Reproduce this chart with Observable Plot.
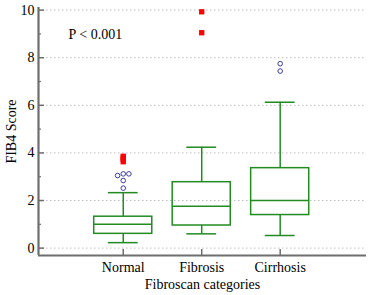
<!DOCTYPE html>
<html>
<head>
<meta charset="utf-8">
<script src="https://cdn.jsdelivr.net/npm/d3@7"></script>
<script src="https://cdn.jsdelivr.net/npm/@observablehq/plot@0.6"></script>
<style>
  html, body { margin: 0; padding: 0; background: #fff; }
</style>
</head>
<body>
<div id="chart"></div>
<script>
// ---- data ----
const categories = ["Normal", "Fibrosis", "Cirrhosis"];
const lowWhisker = [0.23, 0.60, 0.53];
const q1 = [0.60, 0.95, 1.39];
const median = [1.00, 1.76, 2.00];
const q3 = [1.32, 2.77, 3.36];
const highWhisker = [2.33, 4.24, 6.13];

// outside values (blue circles)
const outsideCategory = ["Normal", "Normal", "Normal", "Normal", "Normal", "Cirrhosis", "Cirrhosis"];
const outsideValue = [2.52, 2.84, 3.05, 3.12, 3.12, 7.44, 7.75];

// far-out values (red squares)
const farCategory = ["Normal", "Normal", "Normal", "Normal", "Fibrosis", "Fibrosis"];
const farValue = [3.63, 3.72, 3.80, 3.86, 9.05, 9.93];

const yTicks = [0, 2, 4, 6, 8, 10];
const yMinorTicks = [1, 3, 5, 7, 9];
const annotation = "P < 0.001";
const xTitle = "Fibroscan categories";
const yTitle = "FIB4 Score";

// ---- layout ----
const idx = categories.map((_, i) => i);
const xDomain = [-1.08, 3.1];
const yDomain = [-0.31, 10.11];
const boxHalf = 0.37, capHalf = 0.19, dodgeStep = 0.072;
const green = "#228b22";
const axisColor = "#6e6e6e";
const fs = 14;

// dodge near-equal outside values side by side (like the original software)
const outside = outsideValue.map((v, k) => ({c: categories.indexOf(outsideCategory[k]), v}));
const clusters = [];
for (const d of outside.slice().sort((a, b) => a.c - b.c || a.v - b.v)) {
  const last = clusters[clusters.length - 1];
  if (last && last[0].c === d.c && d.v - last[last.length - 1].v < 0.12) last.push(d);
  else clusters.push([d]);
}
for (const cl of clusters) cl.forEach((d, j) => d.off = (j - (cl.length - 1) / 2) * dodgeStep);

const far = farValue.map((v, k) => ({c: categories.indexOf(farCategory[k]), v}));
const blank = () => "";

const chart = Plot.plot({
  width: 368,
  height: 295,
  marginTop: 7,
  marginBottom: 40,
  marginLeft: 38,
  marginRight: 2,
  style: {fontFamily: "'Liberation Serif', 'Times New Roman', serif", fontSize: fs + "px", color: "#000", background: "#fff"},
  x: {type: "linear", domain: xDomain, axis: null, label: null},
  y: {domain: yDomain, axis: null, label: null},
  marks: [
    // dotted grid
    Plot.ruleY(yTicks, {stroke: "#bdbdbd", strokeDasharray: "1.5,2.5", strokeWidth: 1}),
    // y axis: ticks inward, labels outside
    Plot.axisY({ticks: yTicks, tickSize: -6, tickFormat: blank, stroke: axisColor, strokeWidth: 1.5, label: null}),
    Plot.axisY({ticks: yMinorTicks, tickSize: -3, tickFormat: blank, stroke: axisColor, strokeWidth: 1.2, label: null}),
    Plot.axisY({ticks: yTicks, tickSize: 0, tickPadding: 4, fontSize: fs, fill: "#000", label: null}),
    // x axis
    Plot.axisX({ticks: idx, tickSize: -6, tickFormat: blank, stroke: axisColor, strokeWidth: 1.5, label: null}),
    Plot.axisX({ticks: idx, tickSize: 0, tickPadding: 7, tickFormat: i => categories[i], fontSize: fs, fill: "#000", label: null}),
    // axis lines
    Plot.ruleX([xDomain[0]], {stroke: axisColor, strokeWidth: 2.2}),
    Plot.ruleY([yDomain[0]], {stroke: axisColor, strokeWidth: 2.2}),
    // whiskers
    Plot.ruleX(idx, {x: i => i, y1: i => q3[i], y2: i => highWhisker[i], stroke: green, strokeWidth: 1.5}),
    Plot.ruleX(idx, {x: i => i, y1: i => lowWhisker[i], y2: i => q1[i], stroke: green, strokeWidth: 1.5}),
    Plot.ruleY(idx, {y: i => highWhisker[i], x1: i => i - capHalf, x2: i => i + capHalf, stroke: green, strokeWidth: 1.5}),
    Plot.ruleY(idx, {y: i => lowWhisker[i], x1: i => i - capHalf, x2: i => i + capHalf, stroke: green, strokeWidth: 1.5}),
    // boxes
    Plot.rect(idx, {x1: i => i - boxHalf, x2: i => i + boxHalf, y1: i => q1[i], y2: i => q3[i], fill: "none", stroke: green, strokeWidth: 1.5}),
    Plot.ruleY(idx, {y: i => median[i], x1: i => i - boxHalf, x2: i => i + boxHalf, stroke: green, strokeWidth: 1.5}),
    // outside values
    Plot.dot(outside, {x: d => d.c + d.off, y: "v", r: 2.3, stroke: "#3c3c9c", strokeWidth: 1, fill: "none"}),
    // far out values
    Plot.dot(far, {x: "c", y: "v", symbol: "square", r: 3, fill: "#ff0000", stroke: "none"}),
    // titles & annotation
    Plot.text([yTitle], {frameAnchor: "left", rotate: -90, dx: -27, textAnchor: "middle", lineAnchor: "middle", fontSize: fs, fill: "#000"}),
    Plot.text([xTitle], {frameAnchor: "bottom", dy: 29.5, textAnchor: "middle", lineAnchor: "middle", fontSize: fs, fill: "#000"}),
    Plot.text([annotation], {frameAnchor: "top-left", dx: 30, dy: 27, textAnchor: "start", lineAnchor: "middle", fontSize: fs, fill: "#000"})
  ]
});
document.getElementById("chart").appendChild(chart);
</script>
</body>
</html>
